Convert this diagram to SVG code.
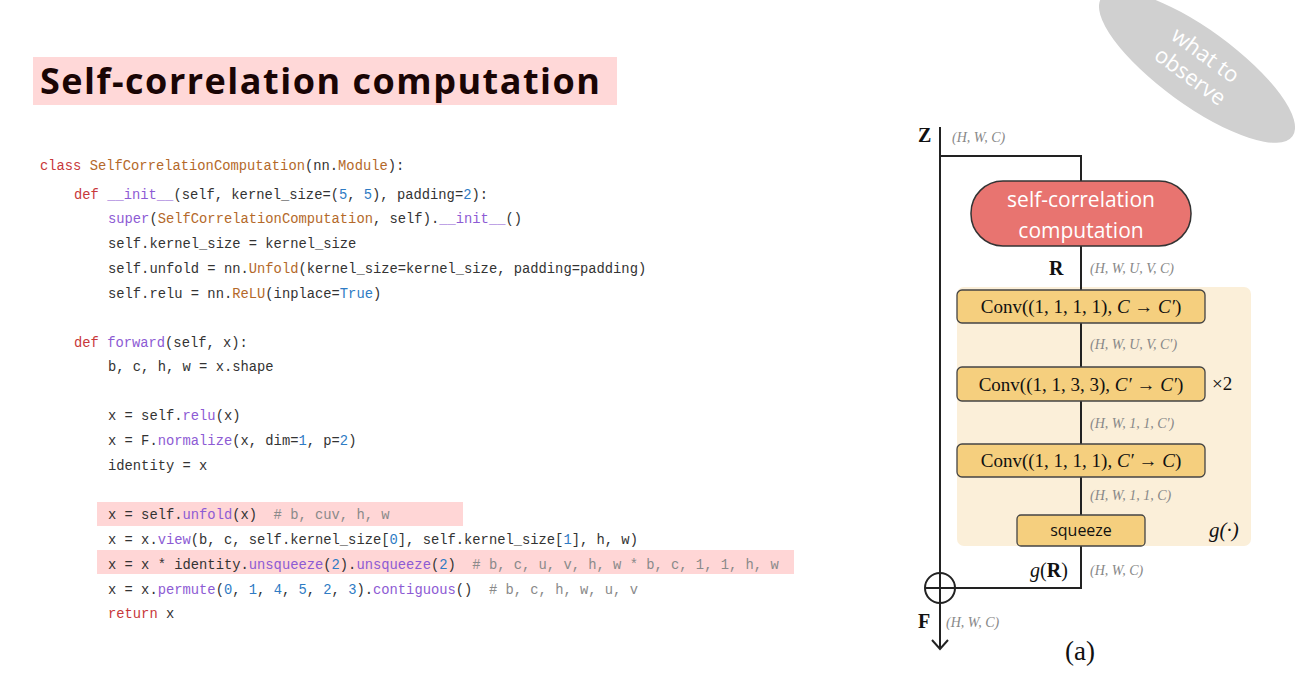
<svg xmlns="http://www.w3.org/2000/svg" width="1302" height="698" viewBox="0 0 1302 698">
<style>
.c{font-family:"Liberation Mono","DejaVu Sans Mono",monospace;font-size:13.8px;fill:#333;white-space:pre}
.k{fill:#c8383a}.n{fill:#b4692a}.f{fill:#8d5bd4}.d{fill:#2e7bc4}.m{fill:#8a8a8a}
.ln{stroke:#222;stroke-width:2;fill:none}
.dim{font-family:"Liberation Serif",serif;font-style:italic;font-size:14px;fill:#888}
.bx{fill:#f5cf7e;stroke:#444;stroke-width:1.3}
.bt{font-family:"Liberation Serif",serif;font-size:19px;fill:#111;text-anchor:middle}
.bl{font-family:"Liberation Serif",serif;font-weight:bold;font-size:20px;fill:#111}
</style>
<rect width="1302" height="698" fill="#fff"/>
<rect x="33" y="57" width="584" height="48" fill="#ffd8d8"/>
<text x="40" y="94" font-family="Open Sans,Liberation Sans,sans-serif" font-weight="bold" font-size="36" fill="#1a0505" textLength="560">Self-correlation computation</text>
<rect x="97" y="502" width="366" height="24" fill="#ffd6d6"/>
<rect x="97" y="550" width="697" height="24" fill="#ffd6d6"/>
<g>
<text class="c" x="40" y="170"><tspan class="k">class</tspan> <tspan class="n">SelfCorrelationComputation</tspan>(nn.<tspan class="n">Module</tspan>):</text>
<text class="c" x="74" y="199"><tspan class="k">def</tspan> <tspan class="f">__init__</tspan>(self, kernel_size=(<tspan class="d">5</tspan>, <tspan class="d">5</tspan>), padding=<tspan class="d">2</tspan>):</text>
<text class="c" x="108" y="223"><tspan class="f">super</tspan>(<tspan class="n">SelfCorrelationComputation</tspan>, self).<tspan class="f">__init__</tspan>()</text>
<text class="c" x="108" y="248">self.kernel_size = kernel_size</text>
<text class="c" x="108" y="273">self.unfold = nn.<tspan class="n">Unfold</tspan>(kernel_size=kernel_size, padding=padding)</text>
<text class="c" x="108" y="298">self.relu = nn.<tspan class="n">ReLU</tspan>(inplace=<tspan class="d">True</tspan>)</text>
<text class="c" x="74" y="347"><tspan class="k">def</tspan> <tspan class="f">forward</tspan>(self, x):</text>
<text class="c" x="108" y="371">b, c, h, w = x.shape</text>
<text class="c" x="108" y="420">x = self.<tspan class="f">relu</tspan>(x)</text>
<text class="c" x="108" y="445">x = F.<tspan class="f">normalize</tspan>(x, dim=<tspan class="d">1</tspan>, p=<tspan class="d">2</tspan>)</text>
<text class="c" x="108" y="470">identity = x</text>
<text class="c" x="108" y="519">x = self.<tspan class="f">unfold</tspan>(x)  <tspan class="m"># b, cuv, h, w</tspan></text>
<text class="c" x="108" y="544">x = x.<tspan class="f">view</tspan>(b, c, self.kernel_size[<tspan class="d">0</tspan>], self.kernel_size[<tspan class="d">1</tspan>], h, w)</text>
<text class="c" x="108" y="569">x = x * identity.<tspan class="f">unsqueeze</tspan>(<tspan class="d">2</tspan>).<tspan class="f">unsqueeze</tspan>(<tspan class="d">2</tspan>)  <tspan class="m"># b, c, u, v, h, w * b, c, 1, 1, h, w</tspan></text>
<text class="c" x="108" y="594">x = x.<tspan class="f">permute</tspan>(<tspan class="d">0</tspan>, <tspan class="d">1</tspan>, <tspan class="d">4</tspan>, <tspan class="d">5</tspan>, <tspan class="d">2</tspan>, <tspan class="d">3</tspan>).<tspan class="f">contiguous</tspan>()  <tspan class="m"># b, c, h, w, u, v</tspan></text>
<text class="c" x="108" y="618"><tspan class="k">return</tspan> x</text>
</g>
<g id="badge" transform="rotate(36 1197 67)">
<ellipse cx="1197" cy="67" rx="118" ry="38" fill="#d0d0d0"/>
<text x="1197" y="60" text-anchor="middle" font-family="Open Sans,sans-serif" font-size="22" fill="#fff">what to</text>
<text x="1197" y="86" text-anchor="middle" font-family="Open Sans,sans-serif" font-size="22" fill="#fff">observe</text>
</g>
<rect id="gpanel" x="957" y="287" width="294" height="259" rx="7" fill="#fbefd9"/>
<g id="connectors">
<path class="ln" d="M940 127V648"/>
<path class="ln" d="M932 640L940 649L948 640"/>
<path class="ln" d="M940 156H1081V181M1081 246V290M1081 323V367M1081 401V444M1081 477V515M1081 546V588H955"/>
</g>
<g id="sum"><circle cx="940" cy="588" r="15" class="ln"/><path class="ln" d="M925 588H955"/></g>
<text class="bl" x="918" y="142">Z</text>
<text class="dim" x="952" y="142">(H, W, C)</text>
<g id="scc">
<rect x="971" y="181" width="220" height="65" rx="32" fill="#e87470" stroke="#333" stroke-width="1.5"/>
<text x="1081" y="207" text-anchor="middle" font-family="Open Sans,sans-serif" font-size="21" fill="#fff">self-correlation</text>
<text x="1081" y="238" text-anchor="middle" font-family="Open Sans,sans-serif" font-size="21" fill="#fff">computation</text>
</g>
<text class="bl" x="1049" y="275">R</text>
<text class="dim" x="1090" y="273">(H, W, U, V, C)</text>
<g id="conv1"><rect class="bx" x="957" y="290" width="248" height="33" rx="5"/><text class="bt" x="1081" y="313">Conv((1, 1, 1, 1), <tspan font-style="italic">C</tspan> → <tspan font-style="italic">C′</tspan>)</text></g>
<text class="dim" x="1090" y="349">(H, W, U, V, C′)</text>
<g id="conv2"><rect class="bx" x="957" y="367" width="248" height="34" rx="5"/><text class="bt" x="1081" y="391">Conv((1, 1, 3, 3), <tspan font-style="italic">C′</tspan> → <tspan font-style="italic">C′</tspan>)</text></g>
<text x="1212" y="390" font-family="Liberation Serif,serif" font-size="19" fill="#111">×2</text>
<text class="dim" x="1090" y="428">(H, W, 1, 1, C′)</text>
<g id="conv3"><rect class="bx" x="957" y="444" width="248" height="33" rx="5"/><text class="bt" x="1081" y="467">Conv((1, 1, 1, 1), <tspan font-style="italic">C′</tspan> → <tspan font-style="italic">C</tspan>)</text></g>
<text class="dim" x="1090" y="500">(H, W, 1, 1, C)</text>
<g id="squeeze"><rect class="bx" x="1017" y="515" width="128" height="31" rx="4"/><text x="1081" y="536" text-anchor="middle" font-family="Open Sans,sans-serif" font-size="16" fill="#111">squeeze</text></g>
<text x="1209" y="537" font-family="Liberation Serif,serif" font-style="italic" font-size="21" fill="#111">g(·)</text>
<text x="1030" y="577" font-family="Liberation Serif,serif" font-size="20" fill="#111"><tspan font-style="italic">g</tspan>(<tspan font-weight="bold">R</tspan>)</text>
<text class="dim" x="1090" y="575">(H, W, C)</text>
<text class="bl" x="918" y="628">F</text>
<text class="dim" x="946" y="627">(H, W, C)</text>
<text x="1080" y="660" text-anchor="middle" font-family="Liberation Serif,serif" font-size="27" fill="#111">(a)</text>
</svg>
